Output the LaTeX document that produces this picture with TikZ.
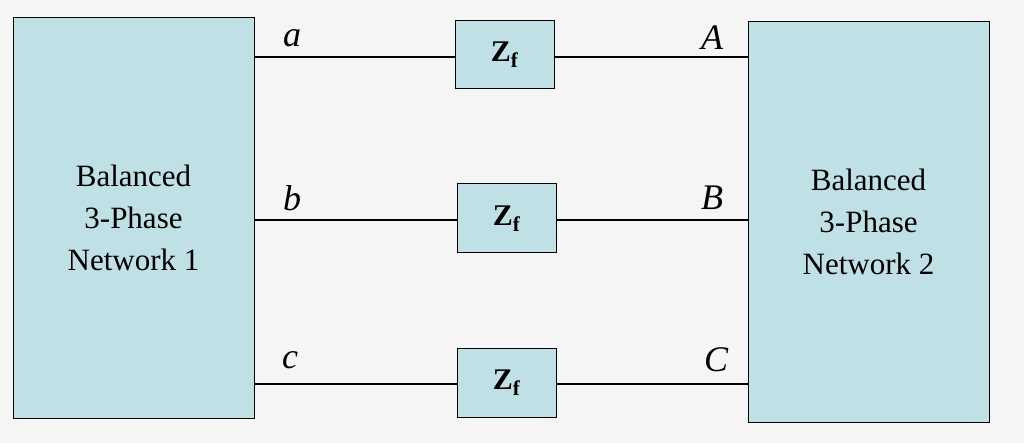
\documentclass[tikz,border=0pt]{standalone}
\usepackage{fontspec}
\setmainfont{Liberation Serif}
\definecolor{boxc}{HTML}{BFE1E6}
\definecolor{bg}{HTML}{F5F5F5}
\begin{document}
\begin{tikzpicture}[x=1pt,y=-1pt,
  net/.style={draw=black,fill=boxc,line width=1pt,align=center,inner sep=0pt,font=\fontsize{31}{42}\selectfont},
  zf/.style={draw=black,fill=boxc,line width=1pt,inner sep=0pt,font=\fontsize{30}{30}\selectfont\bfseries},
  lab/.style={font=\fontsize{36}{36}\selectfont\itshape},
  wire/.style={line width=1.5pt}]
\fill[bg] (0,0) rectangle (1024,443);
\useasboundingbox (0,0) rectangle (1024,443);
\node[net,minimum width=241pt,minimum height=400pt] (n1) at (133.5,218) {Balanced\\3-Phase\\Network 1};
\node[net,minimum width=241pt,minimum height=400pt] (n2) at (868.5,222) {Balanced\\3-Phase\\Network 2};
\node[zf,minimum width=99pt,minimum height=68pt] (z1) at (504.5,55) {Z\textsubscript{f}};
\node[zf,minimum width=99pt,minimum height=69pt] (z2) at (506.5,218.5) {Z\textsubscript{f}};
\node[zf,minimum width=99pt,minimum height=69pt] (z3) at (506.5,382.5) {Z\textsubscript{f}};
\draw[wire] (n1.east |- 0,57) -- (z1.west |- 0,57);
\draw[wire] (z1.east |- 0,57) -- (n2.west |- 0,57);
\draw[wire] (n1.east |- 0,220) -- (z2.west |- 0,220);
\draw[wire] (z2.east |- 0,220) -- (n2.west |- 0,220);
\draw[wire] (n1.east |- 0,384) -- (z3.west |- 0,384);
\draw[wire] (z3.east |- 0,384) -- (n2.west |- 0,384);
\node[lab] (la) at (292,38) {a};
\node[lab] (lb) at (292,198) {b};
\node[lab] (lc) at (290,360) {c};
\node[lab] (lA) at (712,38) {A};
\node[lab] (lB) at (712,198) {B};
\node[lab] (lC) at (716,360) {C};
\end{tikzpicture}
\end{document}
